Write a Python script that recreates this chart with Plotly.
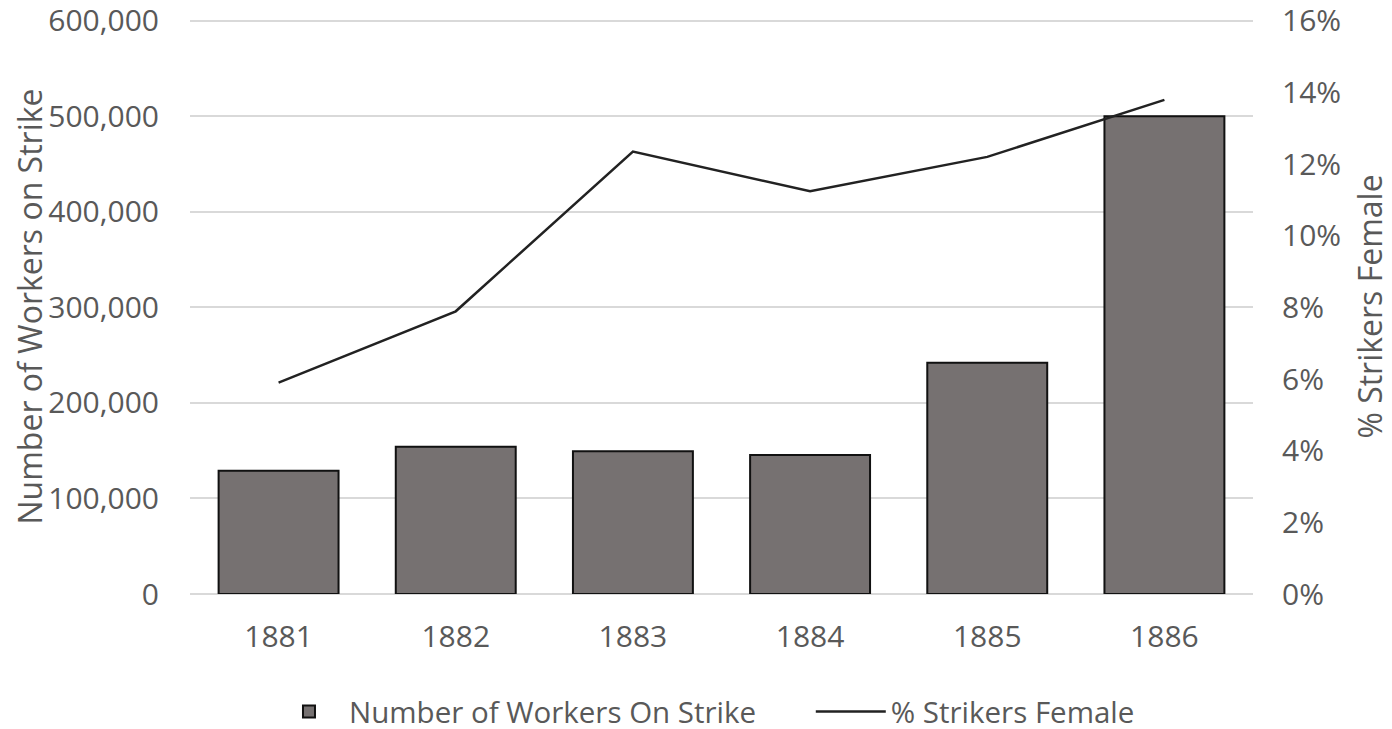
import plotly.graph_objects as go

# ── Datos ──────────────────────────────────────────────────────────────────
years = ["1881", "1882", "1883", "1884", "1885", "1886"]
workers_on_strike = [129000, 154000, 149500, 145500, 242000, 500000]
pct_female = [0.059, 0.0789, 0.1235, 0.1124, 0.122, 0.1379]

BAR_GRAY = "#767171"
TEXT = "#595959"
GRID = "#d9d9d9"
FONT = "Open Sans, sans-serif"
TICK_FS = 30
TITLE_FS = 32
LEG_FS = 29.5

# top of range a touch above the last tick so its gridline isn't clipped
TOP = 1.003

fig = go.Figure()

fig.add_trace(go.Bar(
    x=years,
    y=workers_on_strike,
    name="Number of Workers On Strike",
    marker=dict(color=BAR_GRAY, line=dict(color="#111111", width=2)),
    yaxis="y",
    legend="legend",
    showlegend=True,
))

fig.add_trace(go.Scatter(
    x=years,
    y=pct_female,
    mode="lines",
    name="% Strikers Female",
    line=dict(color="#222222", width=2.5),
    yaxis="y2",
    legend="legend2",
    showlegend=True,
))

leg_common = dict(
    orientation="h", xanchor="left", y=-0.205, yanchor="middle",
    font=dict(size=LEG_FS, color=TEXT), itemwidth=70,
)

fig.update_layout(
    width=1392,
    height=729,
    showlegend=True,
    paper_bgcolor="white",
    plot_bgcolor="white",
    font=dict(family=FONT, color=TEXT, size=TICK_FS),
    bargap=0.323,
    margin=dict(l=182, r=147, t=11, b=143, autoexpand=False),
    xaxis=dict(
        showgrid=False, zeroline=False, showline=False,
        ticks="", ticklabelstandoff=22,
        tickfont=dict(size=TICK_FS, color=TEXT),
    ),
    yaxis=dict(
        range=[0, 600000 * TOP],
        tickvals=[0, 100000, 200000, 300000, 400000, 500000, 600000],
        tickformat=",", ticklabeloverflow="allow",
        showgrid=True, gridcolor=GRID, gridwidth=1.5,
        zeroline=True, zerolinecolor=GRID, zerolinewidth=1.5,
        showline=False, ticks="", ticklabelstandoff=30,
        tickfont=dict(size=TICK_FS, color=TEXT),
        title=dict(text="Number of Workers on Strike", standoff=0,
                   font=dict(size=TITLE_FS, color=TEXT)),
    ),
    yaxis2=dict(
        range=[0, 0.16 * TOP],
        tickvals=[0, 0.02, 0.04, 0.06, 0.08, 0.10, 0.12, 0.14, 0.16],
        tickformat=".0%", ticklabeloverflow="allow",
        overlaying="y", side="right",
        showgrid=False, zeroline=False, showline=False,
        ticks="", ticklabelstandoff=28,
        tickfont=dict(size=TICK_FS, color=TEXT),
        title=dict(text="% Strikers Female", standoff=19,
                   font=dict(size=TITLE_FS, color=TEXT)),
    ),
    legend=dict(x=0.0743, **leg_common),
    legend2=dict(x=0.584, **leg_common),
)

fig.write_html("out.html")
